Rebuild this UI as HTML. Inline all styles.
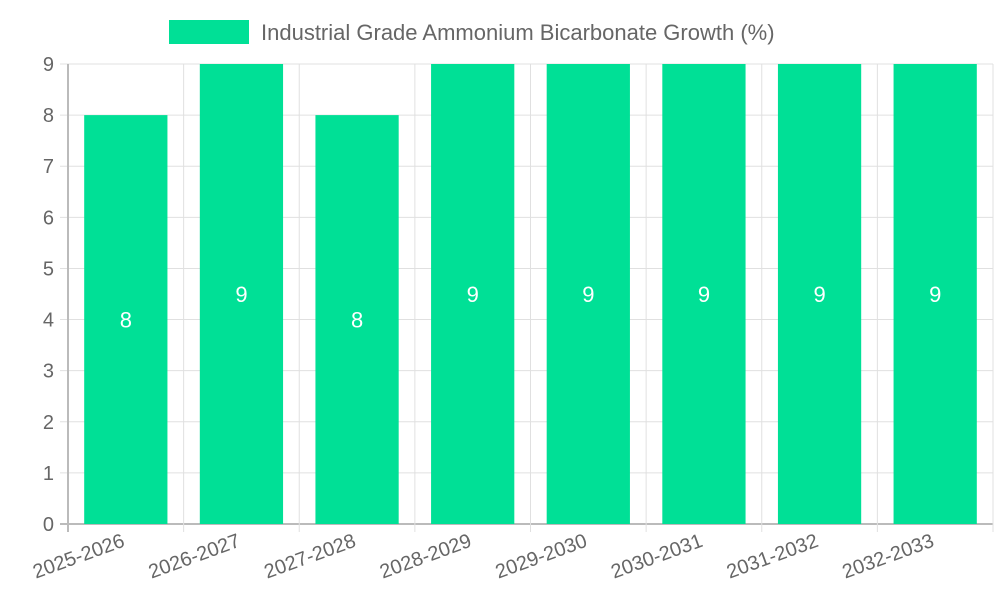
<!DOCTYPE html>
<html><head><meta charset="utf-8"><style>
body{margin:0;background:#fff;}
svg{display:block;font-family:"Liberation Sans",sans-serif;}
</style></head><body>
<svg id="chart" width="1000" height="600">
<rect x="169" y="20" width="80" height="24" fill="#00e096"/>
<text x="261" y="40" font-size="22" fill="#666">Industrial Grade Ammonium Bicarbonate Growth (%)</text>
<g id="grid"></g><g id="bars"></g><g id="labels"></g>
</svg>
<script>
const categories=["2025-2026","2026-2027","2027-2028","2028-2029","2029-2030","2030-2031","2031-2032","2032-2033"];
const values=[8,9,8,9,9,9,9,9];
const yTicks=[0,1,2,3,4,5,6,7,8,9];
const NS="http://www.w3.org/2000/svg";
const x0=68,x1=993,y0=524,y1=64,yMax=9;
const bw=(x1-x0)/categories.length;
const y=v=>y0-(y0-y1)*v/yMax;
const xs=i=>x0+bw*i;
function mk(t,a,p){const e=document.createElementNS(NS,t);for(const k in a)e.setAttribute(k,a[k]);p.appendChild(e);return e;}
const g=document.getElementById('grid'),b=document.getElementById('bars'),l=document.getElementById('labels');
yTicks.forEach(t=>{
 const ln=mk('line',{x1:x0-8,x2:x1,y1:y(t),y2:y(t),stroke:t===0?'#bbb':'#e0e0e0','stroke-width':t===0?2:1},g);
 
 
 const tx=mk('text',{x:x0-14,y:y(t)+7,'text-anchor':'end','font-size':20,fill:'#666'},l);
 tx.textContent=t;
 
 
});
for(let i=0;i<=categories.length;i++){
 const ln=mk('line',{x1:xs(i),x2:xs(i),y1:y1,y2:y0+8,stroke:i===0?'#bbb':'#e0e0e0','stroke-width':i===0?2:1},g);
 
 
}
categories.forEach((c,i)=>{
 const w=bw*0.72,cx=xs(i)+bw/2;
 const r=mk('rect',{x:cx-w/2,y:y(values[i]),width:w,height:y0-y(values[i]),fill:'#00e096'},b);
 
 
 const v=mk('text',{x:cx,y:(y(values[i])+y0)/2+8,'text-anchor':'middle','font-size':22,fill:'#fff'},l);
 v.textContent=values[i];
 
 
 const t=mk('text',{x:cx,y:y0+22,'text-anchor':'end','font-size':20,fill:'#666',transform:`rotate(-20 ${cx} ${y0+22})`},l);
 t.textContent=c;
 
 
});
</script>
</body></html>
